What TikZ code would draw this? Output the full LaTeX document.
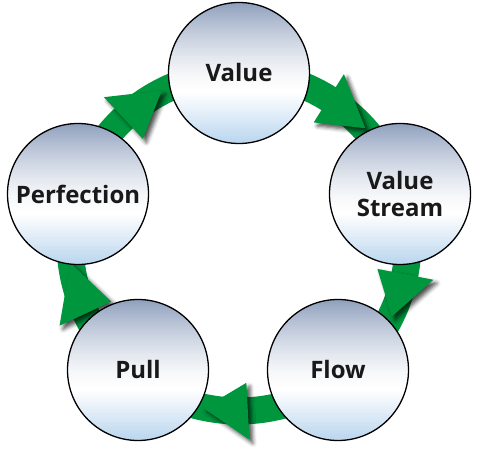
\documentclass[tikz,border=0pt]{standalone}
\usepackage{fontspec}
\setmainfont{Open Sans}
\usetikzlibrary{calc,shadows.blur}
\definecolor{lgreen}{RGB}{0,150,62}
\definecolor{orbT}{RGB}{143,160,189}
\definecolor{orbB}{RGB}{186,214,238}
\definecolor{ink}{RGB}{25,25,25}
\newcommand\ringhead[2]{%
  \fill[headfill] ($(C)+(#1:141)$) -- ($(C)+(#1:198)$) -- ($(C)+(#2:170)$) -- cycle;}
\begin{document}
\begin{tikzpicture}[x=1pt,y=1pt,
  orbnode/.style={circle, draw=black, line width=1.3pt,
    minimum size=141pt, inner sep=0pt,
    font=\bfseries\fontsize{24}{27}\selectfont, text=ink, align=center,
    path picture={
      \foreach \i in {0,...,45}{
        \pgfmathsetmacro\pp{100*(1-(1-\i/45)^1.5)}
        \fill[white!\pp!orbT] ([shift={(-72pt,{70.5pt-2pt*\i})}]path picture bounding box.center)
          rectangle ++(144pt,-2.6pt);
      }
      \foreach \i in {0,...,25}{
        \pgfmathsetmacro\pp{100*\i/25}
        \fill[orbB!\pp!white] ([shift={(-72pt,{-19.5pt-2pt*\i})}]path picture bounding box.center)
          rectangle ++(144pt,-2.6pt);
      }
    }},
  ringfill/.style={fill=lgreen},
  headfill/.style={fill=lgreen, blur shadow={shadow xshift=3.5pt, shadow yshift=-3.5pt,
    shadow blur radius=4pt, shadow opacity=70}},
]
\useasboundingbox (0,0) rectangle (480,453);
\coordinate (C) at (239,211);
% green ring
\fill[ringfill] ($(C)+(0:182.5)$) arc[start angle=0,end angle=360,radius=182.5]
  -- ($(C)+(0:155.5)$) arc[start angle=360,end angle=0,radius=155.5] -- cycle;
% arrow heads (clockwise flow)
\ringhead{58}{42}
\ringhead{-11}{-26}
\ringhead{-87}{-102}
\ringhead{205}{187}
\ringhead{133}{117}
% circles
\node[orbnode] (val)  at (239,380) {Value};
\node[orbnode] (vs)   at (400,259) {Value\\Stream};
\node[orbnode] (flow) at (338,83)  {Flow};
\node[orbnode] (pull) at (138,83)  {Pull};
\node[orbnode] (perf) at (78,259)  {Perfection};
\end{tikzpicture}
\end{document}
